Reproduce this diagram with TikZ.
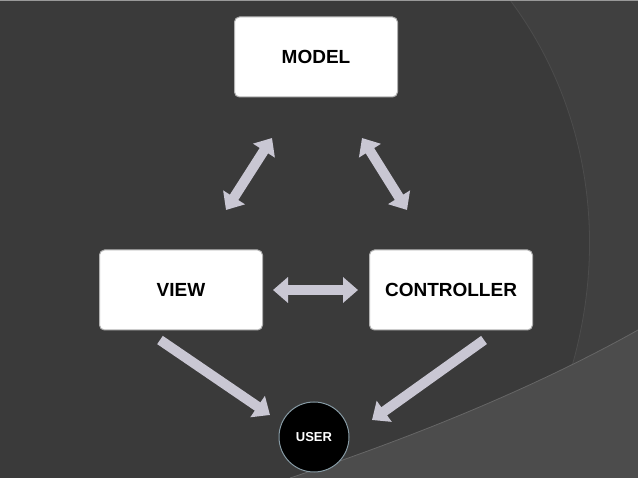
\documentclass[tikz,border=0pt]{standalone}
\usepackage{fontspec}
\setmainfont{Liberation Sans}
\usetikzlibrary{arrows.meta}
\begin{document}
\begin{tikzpicture}[x=1pt,y=-1pt,
 box/.style={draw=gray!60,line width=1pt,fill=white,rounded corners=5pt,minimum width=163pt,minimum height=80pt,font=\bfseries\fontsize{19}{22}\selectfont},
 fat/.style={draw=arrowc,line width=10pt,{Triangle[width=25pt,length=15pt]}-{Triangle[width=25pt,length=15pt]}},
 fat1/.style={draw=arrowc,line width=10pt,-{Triangle[width=25pt,length=15pt]}}]
\definecolor{bg}{HTML}{3A3A3A}
\definecolor{bg2}{HTML}{404040}
\definecolor{bg3}{HTML}{4C4C4C}
\definecolor{arrowc}{HTML}{C9C7D3}
\useasboundingbox (0,0) rectangle (638,478);
\fill[bg] (0,0) rectangle (638,478);
\fill[bg2] (510,0) .. controls (600,120) and (625,300) .. (525,478) -- (638,478) -- (638,0) -- cycle;
\fill[bg3] (290,478) .. controls (420,435) and (540,385) .. (638,330) -- (638,478) -- cycle;
\draw[black!70,line width=0.8pt] (510,0) .. controls (600,120) and (625,300) .. (525,478);
\draw[black!60,line width=0.8pt] (290,478) .. controls (420,435) and (540,385) .. (638,330);
\draw[black!40,line width=0.6pt] (0,0) -- (638,0);
\node[box] (model) at (316,57) {MODEL};
\node[box] (view) at (181,290) {VIEW};
\node[box] (ctrl) at (451,290) {CONTROLLER};
\node[circle,fill=black,draw=gray!80!cyan,line width=1pt,minimum size=70pt,text=white,font=\bfseries\fontsize{13}{15}\selectfont] (user) at (314,437) {USER};
\coordinate (m1) at (272,138); \coordinate (v1) at (226,210);
\coordinate (m2) at (362,138); \coordinate (c1) at (407,210);
\coordinate (v2) at (273,290); \coordinate (c2) at (358,290);
\coordinate (v3) at (160,340); \coordinate (u1) at (270,415);
\coordinate (c3) at (484,340); \coordinate (u2) at (372,420);
\draw[fat] (m1) -- (v1);
\draw[fat] (m2) -- (c1);
\draw[fat] (v2) -- (c2);
\draw[fat1] (v3) -- (u1);
\draw[fat1] (c3) -- (u2);
\end{tikzpicture}
\end{document}
